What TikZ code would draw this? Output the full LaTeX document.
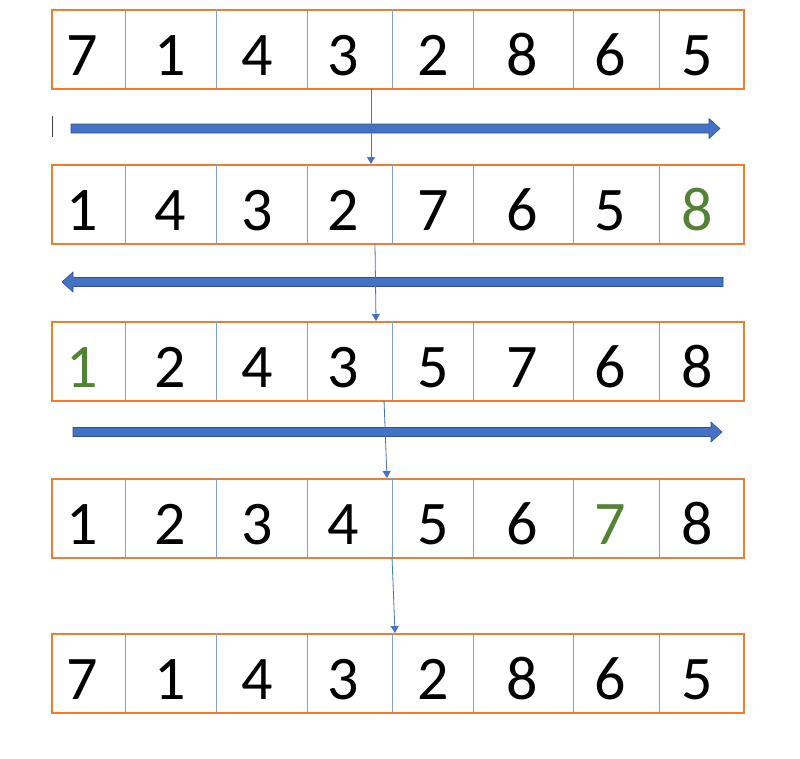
\documentclass[tikz,border=0pt]{standalone}
\usepackage{fontspec}
\setmainfont{Carlito}
\usetikzlibrary{arrows.meta, calc}
\definecolor{cellorange}{HTML}{ED7D31}
\definecolor{passblue}{HTML}{4472C4}
\definecolor{passedge}{HTML}{2F528F}
\definecolor{sepblue}{HTML}{7F9FD8}
\definecolor{donegreen}{HTML}{548235}

% one row of eight cells: name, top edge, digit/colour list
\newcommand{\digitrow}[3]{%
  \node[rowbox, anchor=north west] (#1) at (51,#2) {};
  \foreach \sx in {125,216,307,392,473,573,659}
    \draw[sep] (\sx,#2) -- ++(0,79);
  \foreach \v/\c [count=\i] in {#3} {
    \pgfmathsetmacro\dx{{82,170,257,343,433,522,610,697}[\i-1]}
    \node[digit=\c] (#1-\i) at (\dx,#2+66) {\v};
  }
}

\begin{document}
\begin{tikzpicture}[x=1pt, y=-1pt,
    rowbox/.style={draw=cellorange, line width=1.6pt, minimum width=692pt, minimum height=79pt, inner sep=0pt},
    sep/.style={draw=sepblue, line width=0.7pt},
    digit/.style={anchor=base, inner sep=0pt, text=#1, font=\fontsize{62}{62}\selectfont},
    digit/.default=black,
    link/.style={-{Triangle[length=7pt, width=8pt]}, draw=passblue, line width=0.8pt},
    sweep/.pic={\draw[passedge, fill=passblue, line width=0.6pt]
        (0,-4.5) -- (#1-11,-4.5) -- (#1-11,-10) -- (#1,0) -- (#1-11,10) -- (#1-11,4.5) -- (0,4.5) -- cycle;}
]
\useasboundingbox (0,0) rectangle (800,758);

% Rows of cells
\digitrow{r1}{9}{7/black,1/black,4/black,3/black,2/black,8/black,6/black,5/black}
\digitrow{r2}{164}{1/black,4/black,3/black,2/black,7/black,6/black,5/black,8/donegreen}
\digitrow{r3}{321}{1/donegreen,2/black,4/black,3/black,5/black,7/black,6/black,8/black}
\digitrow{r4}{478}{1/black,2/black,3/black,4/black,5/black,6/black,7/donegreen,8/black}
\digitrow{r5}{633}{7/black,1/black,4/black,3/black,2/black,8/black,6/black,5/black}

% Sweep directions
\pic at (71,128.5) {sweep=649};
\pic[xscale=-1] at (723,282) {sweep=661};
\pic at (73,432) {sweep=649};
\draw[black!75, line width=0.8pt] (52,116) -- (52,137);

% Links between rows
\coordinate (o1) at (371,88);  \coordinate (i2) at (371,164);
\coordinate (o2) at (375,244); \coordinate (i3) at (376,321);
\coordinate (o3) at (384,400); \coordinate (i4) at (387,478);
\coordinate (o4) at (392,557); \coordinate (i5) at (395,633);
\draw[link] (o1) -- (i2);
\draw[link] (o2) -- (i3);
\draw[link] (o3) -- (i4);
\draw[link] (o4) -- (i5);

\end{tikzpicture}
\end{document}
